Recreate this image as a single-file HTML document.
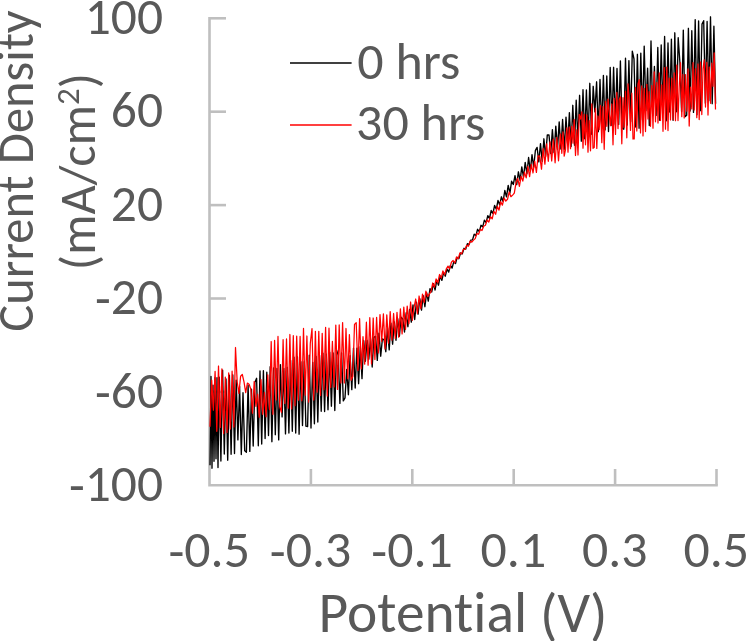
<!DOCTYPE html>
<html><head><meta charset="utf-8"><title>Current Density vs Potential</title>
<style>
html,body{margin:0;padding:0;background:#fff;}
svg{display:block;}
text{font-family:Carlito, 'Liberation Sans', sans-serif;fill:#595959;font-variant-ligatures:none;font-size-adjust:0.4776;font-feature-settings:'liga' 0,'clig' 0;}
</style></head><body>
<svg width="748" height="641" viewBox="0 0 748 641">
<rect width="748" height="641" fill="#fff"/>

<g stroke="#BFBFBF" stroke-width="2.6" fill="none" stroke-linecap="butt">
<path d="M209.5,17.0 V485.3 H717.8"/>
<path d="M209.5,18.3 H226"/>
<path d="M209.5,111.7 H226"/>
<path d="M209.5,205.1 H226"/>
<path d="M209.5,298.5 H226"/>
<path d="M209.5,391.9 H226"/>
<path d="M310.9,485.3 V469"/>
<path d="M412.3,485.3 V469"/>
<path d="M513.7,485.3 V469"/>
<path d="M615.1,485.3 V469"/>
<path d="M716.5,485.3 V469"/>
</g>
<polyline fill="none" stroke="#000" stroke-width="1.35" stroke-linejoin="round" points="210.0,465.3 211.0,376.4 212.0,468.2 213.0,385.1 214.0,461.3 215.0,377.8 216.0,458.8 217.0,377.7 218.0,467.5 219.2,377.2 220.9,461.0 222.6,370.1 224.3,454.1 226.0,378.9 227.7,460.2 229.4,375.2 231.1,454.3 232.8,374.8 234.5,453.5 236.2,380.1 237.9,439.9 239.6,386.4 241.3,454.5 243.0,392.7 244.7,450.8 246.4,452.2 248.1,385.1 249.8,451.4 251.5,389.2 253.2,446.0 254.9,382.2 256.6,378.3 258.3,445.8 260.0,371.0 261.7,444.1 263.4,370.7 265.1,438.5 266.8,372.2 268.5,435.6 270.2,366.7 271.9,441.7 273.6,367.9 275.3,434.7 277.0,368.4 278.7,439.9 280.4,364.6 282.1,416.9 283.8,368.4 285.5,433.9 287.2,367.3 288.9,433.1 290.6,360.5 292.3,431.3 294.0,357.2 295.7,433.0 297.4,356.8 299.1,434.2 300.8,361.7 302.5,425.5 304.2,361.8 305.9,426.2 307.6,426.6 309.3,355.1 311.0,428.1 312.7,362.3 314.4,423.8 316.1,356.4 317.8,422.1 319.5,355.3 321.2,411.3 322.9,353.1 324.6,411.5 326.3,354.2 328.0,409.8 329.7,352.2 331.4,406.2 333.1,353.0 334.8,410.5 336.5,349.9 338.2,355.0 339.9,403.4 341.6,352.9 343.3,400.9 345.0,397.9 346.7,369.4 348.4,394.7 350.1,355.7 351.8,389.6 353.5,348.1 355.2,388.0 356.9,348.2 358.6,383.7 360.3,346.6 362.0,378.6 363.7,340.6 365.4,361.3 367.1,340.3 368.8,359.2 370.5,338.7 372.2,367.0 373.9,337.2 375.6,336.4 377.3,360.4 379.0,333.1 380.7,356.2 382.4,338.9 384.1,339.9 385.8,351.7 387.5,327.6 389.2,349.9 390.9,323.1 392.6,344.2 394.3,321.9 396.0,340.3 397.7,318.6 399.4,336.2 401.1,317.2 402.8,318.9 404.5,332.0 406.2,312.8 407.9,326.7 409.6,309.5 411.3,322.1 413.0,304.9 414.7,319.5 416.4,302.2 418.1,314.1 419.8,298.6 421.5,310.1 423.2,295.6 424.9,306.7 426.6,292.6 428.3,301.1 430.0,288.6 431.7,292.0 433.4,283.6 435.1,290.0 436.8,280.2 438.5,285.2 440.2,276.0 441.9,280.4 443.6,272.3 445.3,276.2 447.0,269.2 448.7,272.1 450.4,265.4 452.1,268.1 453.8,261.7 455.5,263.5 457.2,257.4 458.9,258.6 460.6,252.9 462.3,253.9 464.0,248.3 465.7,249.1 467.4,243.6 469.1,244.5 470.8,240.1 472.5,239.9 474.2,234.2 475.9,235.6 477.6,229.3 479.3,231.6 481.0,225.3 482.7,226.8 484.4,220.2 486.1,222.6 487.8,215.6 489.5,218.5 491.2,210.5 492.9,213.5 494.6,205.5 496.3,209.3 498.0,200.4 499.7,204.9 501.4,196.8 503.1,201.5 504.8,190.5 506.5,196.9 508.2,185.4 509.9,193.2 511.6,181.2 513.3,184.5 515.0,175.7 516.7,184.6 518.4,171.8 520.1,180.3 521.8,166.9 523.5,177.1 525.2,162.4 526.9,173.6 528.6,157.5 530.3,171.0 532.0,154.7 533.7,167.1 535.4,150.3 537.1,147.4 538.8,161.9 540.5,143.6 542.2,161.3 543.9,138.8 545.6,156.4 547.3,134.9 549.0,135.0 550.7,153.5 552.4,129.6 554.1,152.6 555.8,126.1 557.5,149.1 559.2,121.9 560.9,149.0 562.6,119.5 564.3,149.3 566.0,117.1 567.7,144.6 569.4,112.6 571.1,146.5 572.8,105.3 574.5,145.2 576.2,100.2 577.9,140.0 579.6,95.3 581.3,141.2 583.0,89.7 584.7,138.7 586.4,90.0 588.1,138.0 589.8,83.3 591.5,134.2 593.2,86.3 594.9,111.9 596.6,81.8 598.3,131.7 600.0,79.4 601.7,128.6 603.4,75.5 605.1,129.9 606.8,76.0 608.5,131.5 610.2,67.5 611.9,125.6 613.6,67.3 615.3,124.3 617.0,68.5 618.7,124.4 620.4,61.0 622.1,128.0 623.8,129.2 625.5,58.2 627.2,125.1 628.9,60.6 630.6,121.5 632.3,51.1 634.0,59.0 635.7,127.0 637.4,54.3 639.1,128.2 640.8,53.1 642.5,119.9 644.2,46.1 645.9,110.7 647.6,68.2 649.3,125.6 651.0,41.0 652.7,115.7 654.4,66.4 656.1,115.4 657.8,47.5 659.5,120.2 661.2,45.0 662.9,112.9 664.6,36.4 666.3,120.8 668.0,43.0 669.7,112.0 671.4,39.1 673.1,120.3 674.8,32.8 676.5,111.7 678.2,37.7 679.9,62.5 681.6,111.6 683.3,30.1 685.0,116.8 686.7,115.3 688.4,28.3 690.1,111.0 691.8,30.7 693.5,112.4 695.2,19.6 696.9,114.8 698.6,21.0 700.3,110.7 702.0,24.1 703.7,20.7 705.4,103.2 707.1,21.4 708.8,100.8 710.5,16.8 712.2,103.7 713.9,26.2 715.6,103.8"/>
<polyline fill="none" stroke="#FF0000" stroke-width="1.25" stroke-linejoin="round" points="210.0,426.7 211.7,380.1 213.4,410.1 215.1,371.4 216.8,431.3 218.5,366.0 220.2,427.4 221.9,368.8 223.6,433.5 225.3,377.1 227.0,432.5 228.7,372.9 230.4,429.0 232.1,371.2 233.8,427.1 235.5,347.5 237.2,382.0 238.9,393.4 240.6,376.3 242.3,374.5 244.0,381.9 245.7,392.6 247.4,383.1 249.1,384.2 250.8,389.3 252.5,413.2 254.2,381.5 255.9,406.3 257.6,394.2 259.3,417.3 261.0,379.5 262.7,414.3 264.4,392.4 266.1,416.8 267.8,374.8 269.5,409.6 271.2,341.5 272.9,414.3 274.6,340.4 276.3,400.0 278.0,336.4 279.7,406.7 281.4,412.4 283.1,339.7 284.8,403.4 286.5,338.9 288.2,408.2 289.9,334.5 291.6,408.9 293.3,335.7 295.0,405.7 296.7,336.1 298.4,400.2 300.1,336.4 301.8,400.8 303.5,328.4 305.2,395.2 306.9,336.0 308.6,402.1 310.3,343.3 312.0,328.6 313.7,400.1 315.4,331.3 317.1,392.2 318.8,331.3 320.5,395.6 322.2,333.3 323.9,389.8 325.6,327.3 327.3,396.1 329.0,328.2 330.7,387.5 332.4,341.4 334.1,387.0 335.8,325.1 337.5,389.4 339.2,324.9 340.9,383.0 342.6,322.6 344.3,383.0 346.0,328.5 347.7,378.8 349.4,334.6 351.1,380.3 352.8,376.5 354.5,324.4 356.2,322.6 357.9,370.5 359.6,318.7 361.3,368.9 363.0,336.7 364.7,364.1 366.4,322.2 368.1,365.2 369.8,317.7 371.5,363.9 373.2,318.0 374.9,359.5 376.6,317.3 378.3,352.9 380.0,314.6 381.7,341.5 383.4,313.9 385.1,349.0 386.8,314.9 388.5,343.2 390.2,311.6 391.9,340.2 393.6,313.5 395.3,338.4 397.0,312.3 398.7,337.1 400.4,308.9 402.1,333.9 403.8,307.1 405.5,329.4 407.2,306.1 408.9,323.8 410.6,302.0 412.3,320.3 414.0,307.7 415.7,299.0 417.4,313.6 419.1,296.0 420.8,308.6 422.5,294.1 424.2,302.5 425.9,291.2 427.6,296.7 429.3,294.1 431.0,291.6 432.7,283.0 434.4,287.2 436.1,278.9 437.8,282.9 439.5,274.5 441.2,278.1 442.9,270.9 444.6,274.9 446.3,268.8 448.0,266.1 449.7,268.9 451.4,262.1 453.1,260.5 454.8,262.8 456.5,256.8 458.2,258.8 459.9,252.8 461.6,254.0 463.3,249.4 465.0,249.4 466.7,245.3 468.4,246.3 470.1,241.1 471.8,242.1 473.5,240.1 475.2,238.6 476.9,233.5 478.6,234.3 480.3,229.3 482.0,230.5 483.7,226.2 485.4,225.3 487.1,220.0 488.8,222.1 490.5,216.7 492.2,218.9 493.9,211.3 495.6,214.3 497.3,206.3 499.0,210.2 500.7,201.7 502.4,205.2 504.1,198.0 505.8,201.1 507.5,199.3 509.2,192.0 510.9,196.7 512.6,195.1 514.3,193.1 516.0,182.8 517.7,178.3 519.4,186.4 521.1,176.3 522.8,181.1 524.5,172.1 526.2,177.9 527.9,166.3 529.6,176.6 531.3,164.4 533.0,173.0 534.7,161.1 536.4,172.4 538.1,155.8 539.8,156.1 541.5,169.2 543.2,148.6 544.9,164.1 546.6,143.9 548.3,161.3 550.0,141.8 551.7,161.0 553.4,139.1 555.1,162.8 556.8,137.3 558.5,160.8 560.5,134.0 561.8,153.3 563.0,131.9 564.2,156.2 565.5,149.7 566.8,127.8 568.0,152.1 569.2,127.0 570.5,148.6 571.8,126.4 573.0,143.2 574.2,119.6 575.5,155.5 576.8,129.9 578.0,155.0 579.2,114.3 580.5,119.2 581.8,111.8 583.0,148.2 584.2,114.4 585.5,144.8 586.8,114.9 588.0,152.2 589.2,120.6 590.5,150.8 591.8,103.9 593.0,148.3 594.2,147.4 595.5,108.3 596.8,148.4 598.0,116.0 599.2,129.6 600.5,105.5 601.8,142.7 603.0,106.6 604.2,149.3 605.5,101.4 606.8,126.3 608.0,99.1 609.2,112.5 610.5,125.7 611.8,104.0 613.0,144.8 614.2,98.4 615.5,134.4 616.8,92.5 618.0,128.6 619.2,99.8 620.5,96.8 621.8,143.8 623.0,97.7 624.2,127.3 625.5,91.4 626.8,137.8 628.0,83.9 629.2,100.2 630.5,130.4 631.8,93.2 633.0,139.0 634.2,138.9 635.5,87.5 636.8,131.0 638.0,83.8 639.2,79.6 640.5,132.9 641.8,85.9 643.0,135.9 644.2,88.3 645.5,131.6 646.8,84.3 648.0,119.0 649.2,91.6 650.5,126.3 651.8,85.6 653.0,128.2 654.2,71.8 655.5,121.8 656.8,82.5 658.0,123.1 659.2,72.9 660.5,120.5 661.8,84.9 663.0,131.3 664.2,67.6 665.5,129.2 666.8,67.1 668.0,130.6 669.2,78.1 670.5,119.9 671.8,78.2 673.0,119.7 674.2,72.9 675.5,120.7 676.8,65.1 678.0,120.6 679.2,87.0 680.5,62.7 681.8,116.7 683.0,74.5 684.2,118.0 685.5,74.6 686.8,111.2 688.0,68.9 689.2,126.1 690.5,87.2 691.8,108.9 693.0,62.7 694.2,110.0 695.5,68.6 696.8,117.7 698.0,64.0 699.2,119.6 700.5,62.0 701.8,114.6 703.0,68.9 704.2,59.9 705.5,107.1 706.8,62.3 708.0,115.1 709.2,67.0 710.5,103.3 711.8,63.1 713.0,86.3 714.2,52.9 715.5,109.4"/>
<path d="M290,63 H351.6" stroke="#000" stroke-width="1.6"/>
<path d="M290,125 H351.6" stroke="#FF0000" stroke-width="1.6"/>
<text x="357.3" y="78.6" font-size="52" textLength="103.02" lengthAdjust="spacingAndGlyphs">0 hrs</text>
<text x="356.1" y="140" font-size="52" textLength="129.375" lengthAdjust="spacingAndGlyphs">30 hrs</text>
<text x="163" y="33.9" font-size="51.5" text-anchor="end" textLength="78.3125" lengthAdjust="spacingAndGlyphs">100</text>
<text x="163" y="127.3" font-size="51.5" text-anchor="end" textLength="52.21875" lengthAdjust="spacingAndGlyphs">60</text>
<text x="163" y="220.7" font-size="51.5" text-anchor="end" textLength="52.21875" lengthAdjust="spacingAndGlyphs">20</text>
<text x="163" y="314.1" font-size="51.5" text-anchor="end" textLength="68" lengthAdjust="spacingAndGlyphs"><tspan dy="2">-</tspan><tspan dy="-2">20</tspan></text>
<text x="163" y="407.5" font-size="51.5" text-anchor="end" textLength="68" lengthAdjust="spacingAndGlyphs"><tspan dy="2">-</tspan><tspan dy="-2">60</tspan></text>
<text x="163" y="500.9" font-size="51.5" text-anchor="end" textLength="94.09375" lengthAdjust="spacingAndGlyphs"><tspan dy="2">-</tspan><tspan dy="-2">100</tspan></text>
<text x="209.2" y="566.8" font-size="51.8" text-anchor="middle" textLength="81.453125" lengthAdjust="spacingAndGlyphs"><tspan dy="2">-</tspan><tspan dy="-2">0.5</tspan></text>
<text x="310.6" y="566.8" font-size="51.8" text-anchor="middle" textLength="81.453125" lengthAdjust="spacingAndGlyphs"><tspan dy="2">-</tspan><tspan dy="-2">0.3</tspan></text>
<text x="412.0" y="566.8" font-size="51.8" text-anchor="middle" textLength="81.453125" lengthAdjust="spacingAndGlyphs"><tspan dy="2">-</tspan><tspan dy="-2">0.1</tspan></text>
<text x="513.4" y="566.8" font-size="51.8" text-anchor="middle" textLength="65.59375" lengthAdjust="spacingAndGlyphs">0.1</text>
<text x="614.8" y="566.8" font-size="51.8" text-anchor="middle" textLength="65.59375" lengthAdjust="spacingAndGlyphs">0.3</text>
<text x="716.2" y="566.8" font-size="51.8" text-anchor="middle" textLength="65.59375" lengthAdjust="spacingAndGlyphs">0.5</text>
<text x="463" y="632" font-size="57.4" text-anchor="middle" textLength="288.95" lengthAdjust="spacingAndGlyphs">Potential <tspan dy="1.5">(</tspan><tspan dy="-1.5">V</tspan><tspan dy="1.5">)</tspan></text>
<text transform="translate(32.8,171) rotate(-90)" font-size="50.5" text-anchor="middle" textLength="321.38" lengthAdjust="spacingAndGlyphs">Current Density</text>
<text transform="translate(94.6,171.5) rotate(-90)" font-size="50.5" text-anchor="middle" textLength="197.25" lengthAdjust="spacingAndGlyphs"><tspan dy="1.5">(</tspan><tspan dy="-1.5">mA/cm</tspan><tspan font-size="33" dy="-15.7">2</tspan><tspan dy="17.5">)</tspan></text>
</svg></body></html>
